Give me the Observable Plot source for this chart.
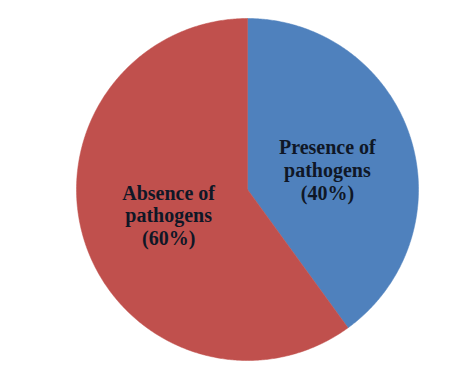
<!DOCTYPE html>
<html>
<head>
<meta charset="utf-8">
<script src="https://cdn.jsdelivr.net/npm/d3@7"></script>
<script src="https://cdn.jsdelivr.net/npm/@observablehq/plot@0.6"></script>
<style>
  html, body { margin: 0; padding: 0; background: #fff; }
  #chart svg { display: block; }
</style>
</head>
<body>
<div id="chart"></div>
<script>
// Data
const categories = ["Presence of pathogens", "Absence of pathogens"];
const values = [40, 60];
const labelLines = [["Presence of", "pathogens", "(40%)"], ["Absence of", "pathogens", "(60%)"]];
const colors = ["#4F81BD", "#C0504D"];

const rows = categories.map((c, i) => ({category: c, value: values[i], label: labelLines[i].join("\n")}));
const arcs = d3.pie().sort(null).value(d => d.value)(rows);

// Build slice outlines in unit-circle coordinates (angle 0 = 12 o'clock, clockwise)
const pts = [];
for (const a of arcs) {
  const key = a.data.category;
  pts.push({key, x: 0, y: 0});
  const n = Math.max(2, Math.ceil((a.endAngle - a.startAngle) / (Math.PI / 360)));
  for (let k = 0; k <= n; k++) {
    const t = a.startAngle + (a.endAngle - a.startAngle) * k / n;
    pts.push({key, x: Math.sin(t), y: Math.cos(t)});
  }
  pts.push({key, x: 0, y: 0});
}

const labelPts = arcs.map((a, i) => {
  const m = (a.startAngle + a.endAngle) / 2;
  const r = 0.485;
  return {i, label: a.data.label, x: r * Math.sin(m), y: r * Math.cos(m)};
});

const W = 474, H = 379, R = 171, CX = 247, CY = 189;
const textStyle = {
  x: "x", y: "y", text: "label",
  fontFamily: "Liberation Serif, Times New Roman, serif",
  fontWeight: "bold",
  fontSize: 20,
  lineHeight: 1.135,
  fill: "#0f1726"
};
const chart = Plot.plot({
  width: W,
  height: H,
  margin: 0,
  x: {domain: [-CX / R, (W - CX) / R], axis: null},
  y: {domain: [-(H - CY) / R, CY / R], axis: null},
  color: {domain: categories, range: colors},
  style: {background: "#fff"},
  marks: [
    Plot.line(pts, {x: "x", y: "y", z: "key", fill: "key", stroke: "key", strokeWidth: 0.5, curve: "linear"}),
    Plot.text(labelPts.filter(d => d.i === 0), {...textStyle, dx: 1, dy: 6}),
    Plot.text(labelPts.filter(d => d.i !== 0), {...textStyle, dx: 0, dy: 0})
  ]
});
document.getElementById("chart").append(chart);
</script>
</body>
</html>
